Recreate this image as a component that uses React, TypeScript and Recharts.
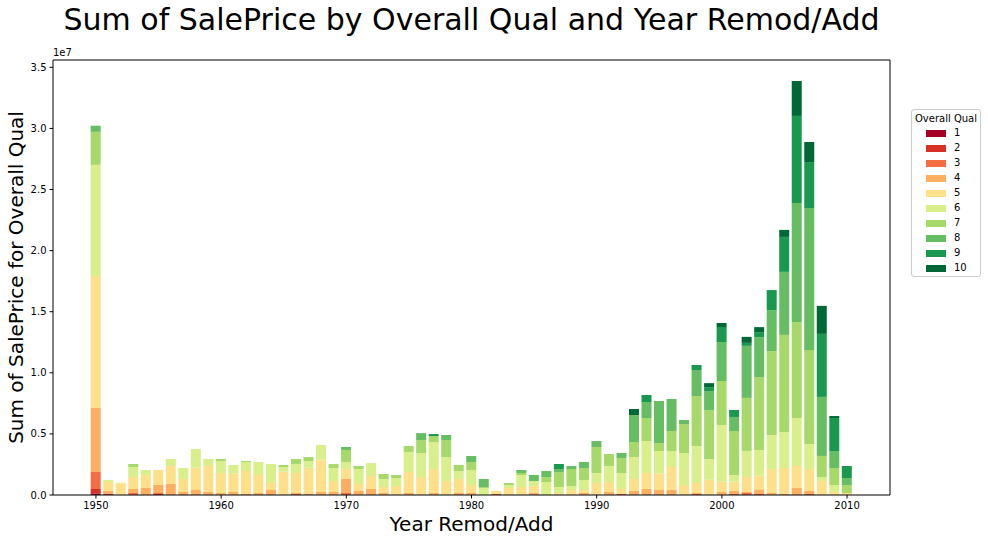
import React from "react";
import { BarChart, Bar, XAxis, YAxis, Legend, ReferenceLine } from "recharts";

// Year Remod/Add, 1950 .. 2010
const years = [
  1950, 1951, 1952, 1953, 1954, 1955, 1956, 1957, 1958, 1959,
  1960, 1961, 1962, 1963, 1964, 1965, 1966, 1967, 1968, 1969,
  1970, 1971, 1972, 1973, 1974, 1975, 1976, 1977, 1978, 1979,
  1980, 1981, 1982, 1983, 1984, 1985, 1986, 1987, 1988, 1989,
  1990, 1991, 1992, 1993, 1994, 1995, 1996, 1997, 1998, 1999,
  2000, 2001, 2002, 2003, 2004, 2005, 2006, 2007, 2008, 2009,
  2010,
];

// sum of SalePrice per year, in thousands of dollars, one list per Overall Qual
const qual1 = [
  136, 0, 0, 0, 0, 0, 0, 0, 0, 0,
  0, 0, 0, 0, 0, 0, 0, 0, 0, 0,
  0, 0, 0, 0, 0, 0, 0, 0, 0, 0,
  0, 0, 0, 0, 0, 0, 0, 0, 0, 0,
  0, 0, 0, 0, 0, 0, 0, 0, 0, 0,
  0, 0, 0, 0, 0, 0, 0, 0, 0, 0,
  0,
];
const qual2 = [
  355, 110, 0, 0, 0, 82, 0, 0, 0, 0,
  0, 0, 0, 0, 0, 0, 0, 0, 0, 0,
  0, 0, 0, 0, 0, 0, 0, 0, 0, 0,
  0, 0, 0, 0, 0, 0, 0, 0, 0, 0,
  0, 0, 0, 0, 0, 0, 0, 0, 0, 0,
  0, 0, 0, 0, 0, 0, 0, 0, 0, 0,
  0,
];
const qual3 = [
  1390, 0, 0, 164, 0, 82, 0, 0, 0, 0,
  0, 0, 0, 0, 0, 0, 82, 0, 0, 0,
  164, 0, 0, 0, 0, 0, 0, 0, 0, 0,
  0, 0, 82, 0, 0, 0, 0, 0, 0, 0,
  0, 0, 82, 0, 0, 0, 0, 0, 82, 0,
  0, 82, 164, 82, 0, 0, 0, 82, 0, 0,
  0,
];
const qual4 = [
  5240, 220, 0, 327, 573, 655, 900, 245, 409, 245,
  164, 245, 82, 164, 409, 0, 82, 82, 245, 245,
  1150, 327, 491, 164, 0, 164, 0, 164, 0, 164,
  164, 0, 0, 0, 0, 164, 0, 0, 0, 164,
  0, 245, 0, 327, 491, 409, 409, 0, 82, 0,
  245, 245, 82, 327, 164, 82, 573, 245, 0, 0,
  0,
];
const qual5 = [
  10800, 740, 955, 982, 1060, 1230, 1470, 1060, 1830, 2130,
  1640, 1500, 1880, 1470, 655, 1910, 1640, 2150, 2650, 900,
  818, 573, 1060, 491, 736, 1720, 1470, 1960, 1150, 1150,
  655, 0, 245, 573, 655, 573, 0, 164, 409, 245,
  982, 818, 409, 982, 1310, 1340, 1880, 818, 818, 1250,
  846, 764, 1230, 1170, 1960, 2130, 1800, 1800, 1150, 245,
  164,
];
const qual6 = [
  9100, 165, 55, 818, 409, 0, 573, 900, 1530, 573,
  982, 709, 736, 1060, 1470, 382, 736, 545, 1200, 1060,
  573, 1230, 1060, 655, 655, 1640, 1960, 2210, 1960, 655,
  1230, 573, 0, 245, 982, 409, 1060, 491, 327, 818,
  818, 1310, 1310, 1800, 2620, 1850, 1310, 2620, 3030, 1690,
  4640, 545, 2130, 2100, 2780, 2950, 3930, 2050, 327, 573,
  0,
];
const qual7 = [
  2700, 0, 0, 245, 0, 0, 0, 0, 0, 0,
  164, 0, 82, 0, 0, 164, 409, 327, 0, 327,
  982, 245, 0, 409, 245, 491, 1060, 491, 1390, 491,
  655, 82, 0, 164, 164, 0, 409, 1230, 1390, 982,
  2130, 982, 1230, 1230, 1880, 655, 1640, 2370, 4090, 4010,
  3600, 3600, 4340, 5970, 6870, 7940, 7860, 7690, 1720, 1390,
  655,
];
const qual8 = [
  500, 0, 0, 0, 0, 0, 0, 0, 0, 0,
  0, 0, 0, 0, 0, 0, 0, 0, 0, 0,
  245, 0, 0, 0, 0, 0, 573, 0, 409, 0,
  491, 655, 0, 0, 245, 491, 491, 245, 245, 491,
  491, 0, 409, 2210, 1310, 3440, 2620, 327, 2130, 1550,
  3190, 1150, 4260, 3270, 3360, 5160, 9740, 11620, 4830, 1390,
  573,
];
const qual9 = [
  0, 0, 0, 0, 0, 0, 0, 0, 0, 0,
  0, 0, 0, 0, 0, 0, 0, 0, 0, 0,
  0, 0, 0, 0, 0, 0, 0, 164, 0, 0,
  0, 0, 0, 0, 0, 0, 0, 409, 0, 0,
  0, 0, 0, 0, 573, 0, 0, 0, 409, 327,
  1230, 573, 245, 409, 1640, 2860, 7120, 3760, 5160, 2700,
  982,
];
const qual10 = [
  0, 0, 0, 0, 0, 0, 0, 0, 0, 0,
  0, 0, 0, 0, 0, 0, 0, 0, 0, 0,
  0, 0, 0, 0, 0, 0, 0, 0, 0, 0,
  0, 0, 0, 0, 0, 0, 0, 0, 0, 0,
  0, 0, 0, 491, 0, 0, 0, 0, 0, 327,
  327, 0, 491, 409, 0, 573, 2860, 1640, 2290, 164,
  0,
];

const qualLevels = ["1", "2", "3", "4", "5", "6", "7", "8", "9", "10"];
const qualSeries = [qual1, qual2, qual3, qual4, qual5, qual6, qual7, qual8, qual9, qual10];
const qualColors = [
  "#a50026", "#d73027", "#f46d43", "#fdae61", "#fee08b",
  "#d9ef8b", "#a6d96a", "#66bd63", "#1a9850", "#006837",
];

const xTicks = [1950, 1960, 1970, 1980, 1990, 2000, 2010];
const yTicks = [0, 5e6, 10e6, 15e6, 20e6, 25e6, 30e6, 35e6];
const X_DOMAIN = [1946.57, 2013.43];
const Y_DOMAIN = [0, 35.6e6];

const rows = years.map((year, i) => {
  const row: Record<string, number> = { year };
  qualLevels.forEach((q, k) => {
    row["q" + q] = qualSeries[k][i] * 1000;
  });
  return row;
});

const FONT = "DejaVu Sans, sans-serif";

function QualLegend() {
  return (
    <div
      style={{
        position: "relative",
        width: 70,
        height: 168,
        boxSizing: "border-box",
        border: "1px solid #cccccc",
        borderRadius: 3,
        background: "#fff",
        fontFamily: FONT,
        fontSize: 10,
        color: "#000",
      }}
    >
      <div style={{ position: "absolute", left: 0, width: 68, top: 3, textAlign: "center", lineHeight: "12px" }}>
        Overall Qual
      </div>
      {qualLevels.map((q, i) => (
        <div key={q} style={{ position: "absolute", left: 14, top: 17 + i * 15.04, height: 12, width: 52 }}>
          <div style={{ position: "absolute", left: 0, top: 2.5, width: 20, height: 7, background: qualColors[i] }} />
          <div style={{ position: "absolute", left: 28, top: 0, lineHeight: "12px" }}>{q}</div>
        </div>
      ))}
    </div>
  );
}

export default function App() {
  const tickStyle = { fontSize: 10, fill: "#000", fontFamily: FONT };
  return (
    <div style={{ position: "absolute", left: 0, top: 0, width: 988, height: 542, background: "#fff" }}>
      <BarChart
        width={988}
        height={542}
        data={rows}
        margin={{ top: 60, right: 98, bottom: 17, left: 8 }}
        barSize={10}
      >
        <XAxis
          dataKey="year"
          type="number"
          domain={X_DOMAIN}
          allowDataOverflow
          ticks={xTicks}
          height={30}
          tick={tickStyle}
          tickSize={3.5}
          tickMargin={3}
          axisLine={{ stroke: "#000" }}
          tickLine={{ stroke: "#000" }}
        />
        <YAxis
          type="number"
          domain={Y_DOMAIN}
          allowDataOverflow
          ticks={yTicks}
          width={45}
          tick={tickStyle}
          tickSize={3.5}
          tickMargin={3}
          tickFormatter={(v: number) => (v / 1e7).toFixed(1)}
          axisLine={{ stroke: "#000" }}
          tickLine={{ stroke: "#000" }}
        />
        <Legend
          layout="horizontal"
          verticalAlign="middle"
          align="center"
          wrapperStyle={{ left: 911, top: 109, width: 70, height: 168 }}
          content={() => <QualLegend />}
        />
        {qualLevels.map((q, i) => (
          <Bar
            key={q}
            dataKey={"q" + q}
            name={q}
            stackId="qual"
            fill={qualColors[i]}
            isAnimationActive={false}
          />
        ))}
        <ReferenceLine y={Y_DOMAIN[1]} stroke="#000" ifOverflow="extendDomain" />
        <ReferenceLine x={X_DOMAIN[1]} stroke="#000" ifOverflow="extendDomain" />
      </BarChart>
      <svg
        width={988}
        height={542}
        style={{ position: "absolute", left: 0, top: 0, pointerEvents: "none" }}
        fontFamily={FONT}
      >
        <text x={471.5} y={30} textAnchor="middle" fontSize={30} fill="#000">
          Sum of SalePrice by Overall Qual and Year Remod/Add
        </text>
        <text x={53} y={56} fontSize={10} fill="#000">
          1e7
        </text>
        <text x={471.5} y={531} textAnchor="middle" fontSize={20} fill="#000">
          Year Remod/Add
        </text>
        <text
          x={23}
          y={277.5}
          textAnchor="middle"
          fontSize={20}
          fill="#000"
          transform="rotate(-90 23 277.5)"
        >
          Sum of SalePrice for Overall Qual
        </text>
      </svg>
    </div>
  );
}
